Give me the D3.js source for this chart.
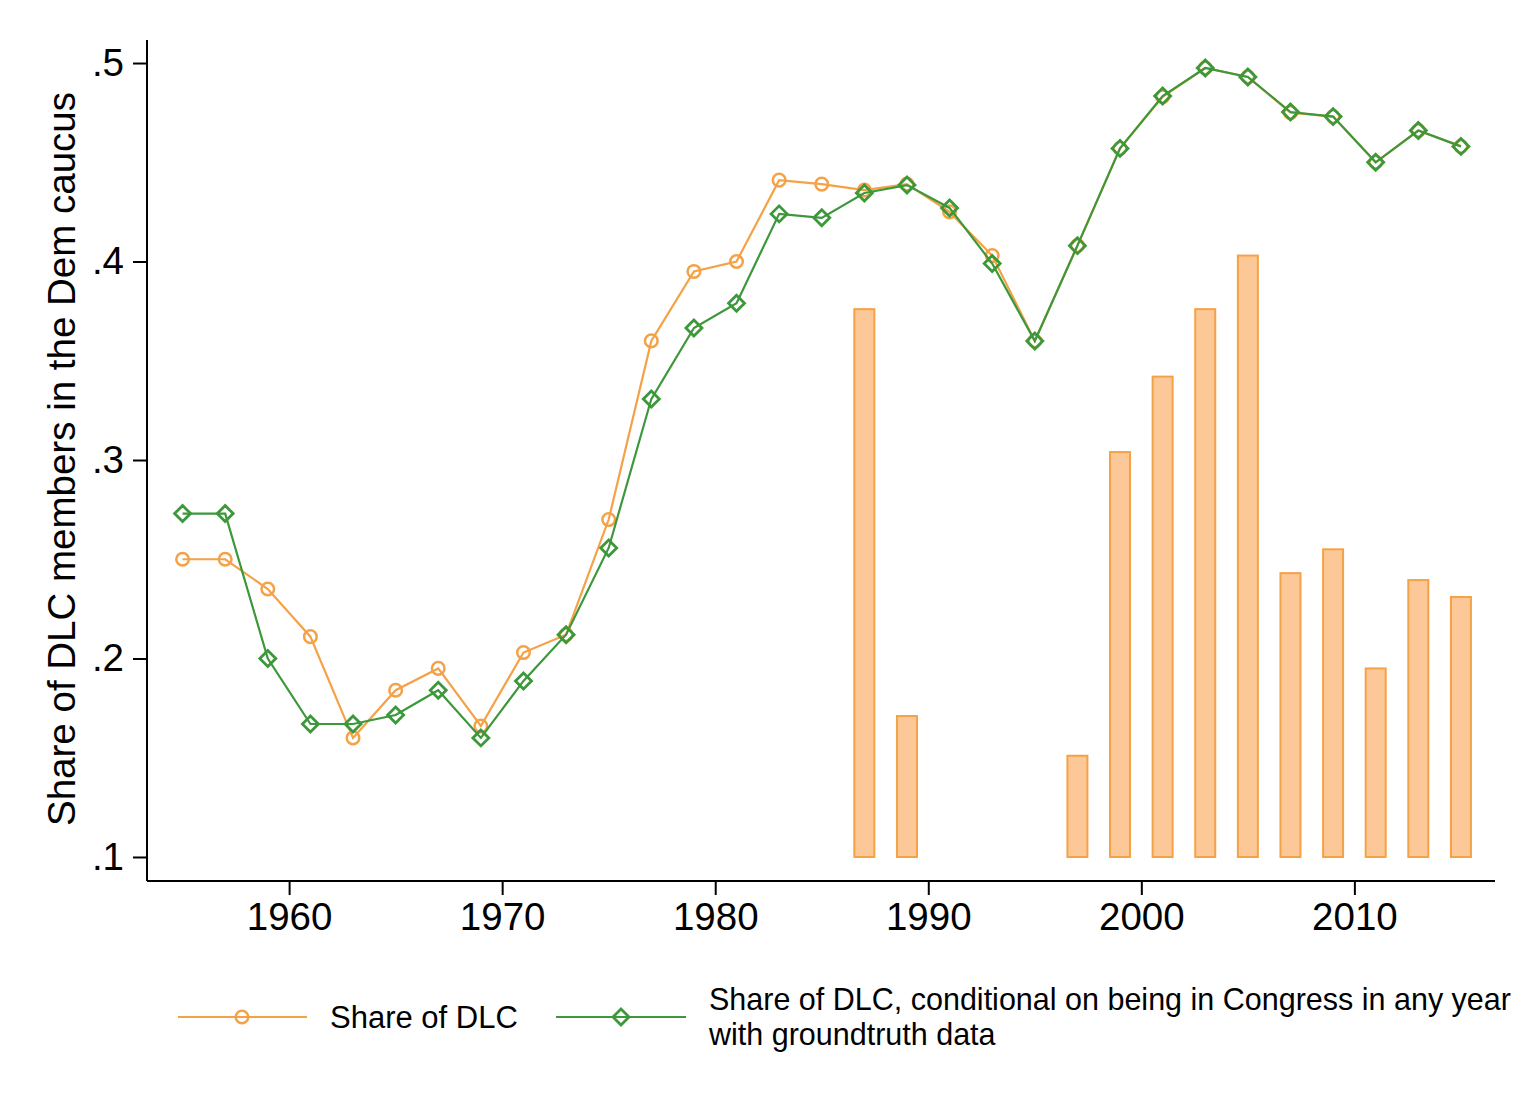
<!DOCTYPE html>
<html>
<head>
<meta charset="utf-8">
<script src="https://cdn.jsdelivr.net/npm/d3@7"></script>
<style>
  html, body { margin: 0; padding: 0; background: #fff; }
  svg text { font-family: "Liberation Sans", Arial, sans-serif; fill: #000; }
</style>
</head>
<body>
<svg id="chart" width="1536" height="1117"></svg>
<script>
// DLC share in the Democratic caucus, by Congress start year

const years = [1955, 1957, 1959, 1961, 1963, 1965, 1967, 1969, 1971, 1973, 1975, 1977, 1979, 1981, 1983,
  1985, 1987, 1989, 1991, 1993, 1995, 1997, 1999, 2001, 2003, 2005, 2007, 2009, 2011, 2013, 2015];

const shareDLC = [0.250, 0.250, 0.235, 0.211, 0.160, 0.184, 0.195, 0.166, 0.203, 0.212, 0.270, 0.360, 0.395, 0.400, 0.441,
  0.439, 0.436, 0.439, 0.425, 0.403, 0.360, 0.408, 0.457, 0.483, 0.4975, 0.493, 0.475, 0.473, 0.450, 0.466, 0.458];

const shareDLCCond = [0.273, 0.273, 0.200, 0.167, 0.167, 0.1715, 0.184, 0.160, 0.1887, 0.212, 0.2557, 0.3307, 0.3665, 0.379, 0.424,
  0.422, 0.4345, 0.4385, 0.427, 0.399, 0.360, 0.408, 0.457, 0.4834, 0.4975, 0.493, 0.4753, 0.473, 0.450, 0.466, 0.458];

const barYears = [1987, 1989, 1997, 1999, 2001, 2003, 2005, 2007, 2009, 2011, 2013, 2015];
const barValues = [0.376, 0.171, 0.151, 0.304, 0.342, 0.376, 0.403, 0.243, 0.255, 0.195, 0.2395, 0.231];

const xTicks = [1960, 1970, 1980, 1990, 2000, 2010];
const yTicks = [0.1, 0.2, 0.3, 0.4, 0.5];

const orange = '#f5a146';
const barFill = '#fdc897';
const green = '#3c983a';

const svg = d3.select('#chart');

const x = d3.scaleLinear().domain([1953.33, 2016.6]).range([147, 1495]);
const y = d3.scaleLinear().domain([0.0879, 0.5116]).range([881, 40]);

// bars, based at .1
svg.append('g')
  .selectAll('rect')
  .data(barYears.map((yr, i) => ({ yr, v: barValues[i] })))
  .join('rect')
  .attr('x', d => x(d.yr) - 10)
  .attr('width', 20)
  .attr('y', d => y(d.v))
  .attr('height', d => y(0.1) - y(d.v))
  .attr('fill', barFill)
  .attr('stroke', orange)
  .attr('stroke-width', 2);

const line = d3.line().x(d => x(d[0])).y(d => y(d[1]));

function drawSeries(values, color, marker) {
  const pts = years.map((yr, i) => [yr, values[i]]);
  svg.append('path')
    .datum(pts)
    .attr('d', line)
    .attr('fill', 'none')
    .attr('stroke', color)
    .attr('stroke-width', 2.2);
  const g = svg.append('g');
  pts.forEach(p => drawMarker(g, x(p[0]), y(p[1]), color, marker));
}

function drawMarker(g, cx, cy, color, marker) {
  if (marker === 'circle') {
    g.append('circle')
      .attr('cx', cx).attr('cy', cy).attr('r', 6.3)
      .attr('fill', 'none').attr('stroke', color).attr('stroke-width', 2.5);
  } else {
    const s = 8;
    g.append('path')
      .attr('d', `M${cx},${cy - s}L${cx + s},${cy}L${cx},${cy + s}L${cx - s},${cy}Z`)
      .attr('fill', 'none').attr('stroke', color).attr('stroke-width', 2.8);
  }
}

drawSeries(shareDLC, orange, 'circle');
drawSeries(shareDLCCond, green, 'diamond');

// axes
const xAxis = svg.append('g')
  .attr('transform', 'translate(0,881)')
  .call(d3.axisBottom(x).tickValues(xTicks).tickFormat(d3.format('d')).tickSize(14).tickPadding(8));
xAxis.select('.domain').attr('stroke', '#000').attr('stroke-width', 2).attr('d', 'M147,0H1495');
xAxis.selectAll('.tick line').attr('stroke', '#000').attr('stroke-width', 2);
xAxis.selectAll('.tick text').attr('font-size', 38.5).attr('font-family', '"Liberation Sans", Arial, sans-serif');

const yAxis = svg.append('g')
  .attr('transform', 'translate(147,0)')
  .call(d3.axisLeft(y).tickValues(yTicks).tickFormat(d => d3.format('.1f')(d).replace(/^0/, '')).tickSize(14).tickPadding(9));
yAxis.select('.domain').attr('stroke', '#000').attr('stroke-width', 2).attr('d', 'M0,881V40');
yAxis.selectAll('.tick line').attr('stroke', '#000').attr('stroke-width', 2);
yAxis.selectAll('.tick text').attr('font-size', 38.5).attr('font-family', '"Liberation Sans", Arial, sans-serif');

// y title
svg.append('text')
  .attr('transform', 'translate(75,459) rotate(-90)')
  .attr('text-anchor', 'middle')
  .attr('font-size', 38.5)
  .text('Share of DLC members in the Dem caucus');

// legend
const lg = svg.append('g');
lg.append('line').attr('x1', 178).attr('x2', 307).attr('y1', 1017).attr('y2', 1017)
  .attr('stroke', orange).attr('stroke-width', 2.2);
drawMarker(lg, 242, 1017, orange, 'circle');
lg.append('text').attr('x', 330).attr('y', 1028).attr('font-size', 31).text('Share of DLC');

lg.append('line').attr('x1', 556).attr('x2', 686).attr('y1', 1017).attr('y2', 1017)
  .attr('stroke', green).attr('stroke-width', 2.2);
drawMarker(lg, 621, 1017, green, 'diamond');
lg.append('text').attr('x', 709).attr('y', 1010).attr('font-size', 30.5)
  .text('Share of DLC, conditional on being in Congress in any year');
lg.append('text').attr('x', 709).attr('y', 1045).attr('font-size', 30.5)
  .text('with groundtruth data');
</script>
</body>
</html>
